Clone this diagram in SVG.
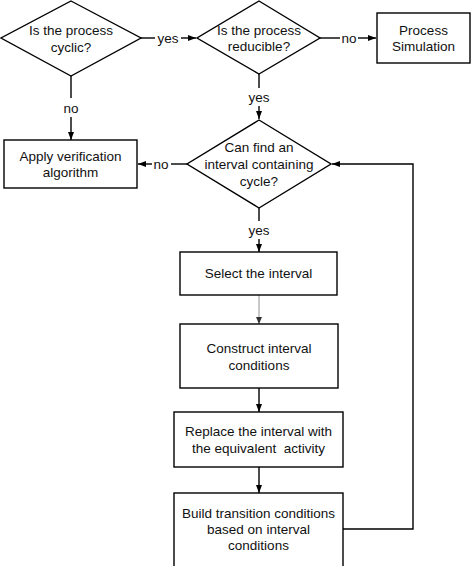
<svg xmlns="http://www.w3.org/2000/svg" width="474" height="566" viewBox="0 0 474 566">
<defs>
<style>
.s{fill:#fff;stroke:#000;stroke-width:1.4}
.t{font-family:"Liberation Sans",Arial,sans-serif;font-size:13.5px;fill:#111;text-anchor:middle}
.c{fill:none;stroke:#000;stroke-width:1.4}
.g{fill:none;stroke:#777;stroke-width:0.8}
</style>
<marker id="a" markerUnits="userSpaceOnUse" markerWidth="8" markerHeight="6" refX="8" refY="3" orient="auto">
<path d="M0,0 L8,3 L0,6 Z" fill="#000"/>
</marker>
<marker id="ag" markerUnits="userSpaceOnUse" markerWidth="7" markerHeight="6" refX="7" refY="3" orient="auto">
<path d="M0,0 L7,3 L0,6 Z" fill="#333"/>
</marker>
</defs>
<rect width="474" height="566" fill="#fff"/>
<g id="connectors">
<path class="c" d="M140,38 H155"/>
<path class="c" d="M181,38 H196" marker-end="url(#a)"/>
<text class="t" x="168" y="42.7">yes</text>
<path class="c" d="M320,38 H340"/>
<path class="c" d="M358,38 H376" marker-end="url(#a)"/>
<text class="t" x="349" y="42.7">no</text>
<path class="c" d="M71,76 V98"/>
<path class="c" d="M71,117 V140" marker-end="url(#a)"/>
<text class="t" x="71" y="112.7">no</text>
<path class="c" d="M259,74 V88"/>
<path class="c" d="M259,106 V119" marker-end="url(#a)"/>
<text class="t" x="259" y="101.7">yes</text>
<path class="c" d="M187,164 H171"/>
<path class="c" d="M152,164 H138" marker-end="url(#a)"/>
<text class="t" x="161" y="168.7">no</text>
<path class="c" d="M259,208 V221"/>
<path class="c" d="M259,239 V252" marker-end="url(#a)"/>
<text class="t" x="259" y="234.7">yes</text>
<path class="g" d="M259,295 V324" marker-end="url(#ag)"/>
<path class="c" d="M259,388 V412" marker-end="url(#a)"/>
<path class="c" d="M259,467 V493" marker-end="url(#a)"/>
<path class="c" d="M343,529 H413 V164 H332" marker-end="url(#a)"/>
</g>
<g id="d1">
<polygon class="s" points="71,1 141,38 71,76 1,38"/>
<text class="t" x="71" y="34.7">Is the process</text>
<text class="t" x="71" y="51.7">cyclic?</text>
</g>
<g id="d2">
<polygon class="s" points="259,1 320,38 259,74 197,38"/>
<text class="t" x="259" y="34.7">Is the process</text>
<text class="t" x="259" y="50.7">reducible?</text>
</g>
<g id="sim">
<rect class="s" x="377" y="13" width="93" height="50"/>
<text class="t" x="423.5" y="34.7">Process</text>
<text class="t" x="423.5" y="50.7">Simulation</text>
</g>
<g id="apply">
<rect class="s" x="4" y="140" width="133" height="48"/>
<text class="t" x="70.5" y="160.7">Apply verification</text>
<text class="t" x="70.5" y="176.7">algorithm</text>
</g>
<g id="d3">
<polygon class="s" points="259,120 331,164 259,208 187,164"/>
<text class="t" x="259" y="151.7">Can find an</text>
<text class="t" x="259" y="168.7">interval containing</text>
<text class="t" x="259" y="185.7">cycle?</text>
</g>
<g id="select">
<rect class="s" x="180" y="252" width="157" height="43"/>
<text class="t" x="258.5" y="277.7">Select the interval</text>
</g>
<g id="construct">
<rect class="s" x="180" y="324" width="158" height="64"/>
<text class="t" x="259" y="352.7">Construct interval</text>
<text class="t" x="259" y="369.7">conditions</text>
</g>
<g id="replace">
<rect class="s" x="174" y="412" width="169" height="55"/>
<text class="t" x="258.5" y="435.7">Replace the interval with</text>
<text class="t" x="258.5" y="452.7" xml:space="preserve">the equivalent  activity</text>
</g>
<g id="build">
<rect class="s" x="174" y="493" width="169" height="80"/>
<text class="t" x="258.5" y="517.7">Build transition conditions</text>
<text class="t" x="258.5" y="533.7">based on interval</text>
<text class="t" x="258.5" y="549.7">conditions</text>
</g>
</svg>
